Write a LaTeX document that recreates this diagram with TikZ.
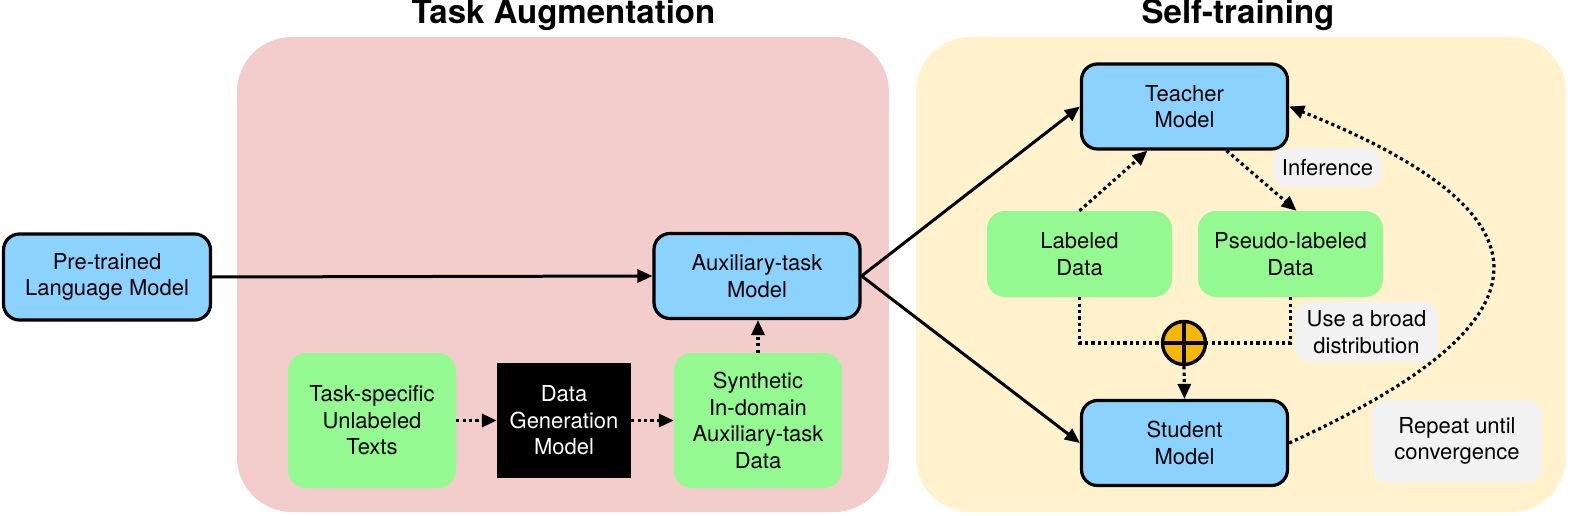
\documentclass[tikz,border=0pt]{standalone}
\usepackage{fontspec}
\setmainfont{TeX Gyre Heros}
\usetikzlibrary{arrows.meta,calc}
\definecolor{bluebox}{RGB}{140,210,255}
\definecolor{greenbox}{RGB}{149,249,146}
\definecolor{pinkpanel}{RGB}{243,204,204}
\definecolor{yellowpanel}{RGB}{255,242,204}
\definecolor{graylabel}{RGB}{242,242,242}
\definecolor{orangecirc}{RGB}{246,183,0}
\tikzset{
  txt/.style={font=\fontsize{22}{26.5}\selectfont, align=center, inner sep=0pt},
  bluenode/.style={txt, draw=black, line width=3.2pt, fill=bluebox, rounded corners=16pt},
  greennode/.style={txt, fill=greenbox, rounded corners=18pt},
  blacknode/.style={txt, fill=black, text=white},
  graynode/.style={txt, fill=graylabel, rounded corners=15pt},
  panel/.style={rounded corners=55pt},
  title/.style={font=\fontsize{33}{38}\selectfont\bfseries, inner sep=0pt},
  tip/.style={-{Triangle[length=15pt,width=13pt]}},
  solidarrow/.style={tip, line width=3pt},
  dotarrow/.style={tip, line width=3.2pt, dash pattern=on 3.2pt off 3.2pt},
  dotline/.style={line width=3.2pt, dash pattern=on 3.2pt off 3.2pt},
}
\begin{document}
\begin{tikzpicture}[x=1pt,y=-1pt]
\useasboundingbox (0,0) rectangle (1572,516);
% panels
\fill[pinkpanel, panel] (237,37) rectangle (889,512);
\fill[yellowpanel, panel] (916,37) rectangle (1566,512);
% titles
\node[title, anchor=base] (t1) at (563.5,24) {Task Augmentation};
\node[title, anchor=base] (t2) at (1238,24) {Self-training};
% nodes
\node[bluenode, minimum width=207pt, minimum height=86pt] (plm) at (107,277) {Pre-trained\\Language Model};
\node[bluenode, minimum width=206pt, minimum height=85pt] (aux) at (757,276) {Auxiliary-task\\Model};
\node[bluenode, minimum width=206pt, minimum height=85pt] (teacher) at (1184.5,106.5) {Teacher\\Model};
\node[bluenode, minimum width=206pt, minimum height=85pt] (student) at (1184.5,443) {Student\\Model};
\node[greennode, minimum width=185pt, minimum height=86pt] (labeled) at (1079.5,254) {Labeled\\Data};
\node[greennode, minimum width=185pt, minimum height=86pt] (pseudo) at (1290.5,254) {Pseudo-labeled\\Data};
\node[greennode, minimum width=168pt, minimum height=135pt] (ts) at (372,420.5) {Task-specific\\Unlabeled\\Texts};
\node[blacknode, minimum width=134pt, minimum height=115pt] (dg) at (564,420.5) {Data\\Generation\\Model};
\node[greennode, minimum width=168pt, minimum height=135pt] (syn) at (758,420.5) {Synthetic\\In-domain\\Auxiliary-task\\Data};
\node[graynode, minimum width=109pt, minimum height=39pt] (inf) at (1327.5,167.5) {Inference};
\node[graynode, minimum width=143pt, minimum height=60pt] (broad) at (1366.5,332) {Use a broad\\distribution};
\node[graynode, minimum width=170pt, minimum height=82pt] (rep) at (1457,441) {Repeat until\\convergence};
\node[circle, draw=black, line width=3.4pt, fill=orangecirc, minimum size=43pt, inner sep=0pt] (op) at (1184,343) {};
\draw[line width=3.4pt] (op.north) -- (op.south) (op.west) -- (op.east);
% solid connectors
\draw[solidarrow] (plm.east) -- (aux.west);
\draw[solidarrow] (aux.east) -- (teacher.west);
\draw[solidarrow] (aux.east) -- (student.west);
% dotted connectors
\draw[dotarrow] (ts.east) -- (dg.west);
\draw[dotarrow] (dg.east) -- (syn.west);
\draw[dotarrow] (syn.north) -- (syn.north |- aux.south);
\draw[dotarrow] (labeled.north) -- ($(teacher.south)+(-37,0)$);
\draw[dotarrow] ($(teacher.south)+(42,0)$) -- ($(pseudo.north)+(6,0)$);
\draw[dotline] (labeled.south) -- (labeled.south |- op.west) -- (op.west);
\draw[dotline] (pseudo.south) -- (pseudo.south |- op.east) -- (op.east);
\draw[dotarrow] (op.south) -- (student.north);
\draw[dotarrow] (student.east) .. controls (1560,320) and (1560,215) .. (teacher.east);
\end{tikzpicture}
\end{document}
